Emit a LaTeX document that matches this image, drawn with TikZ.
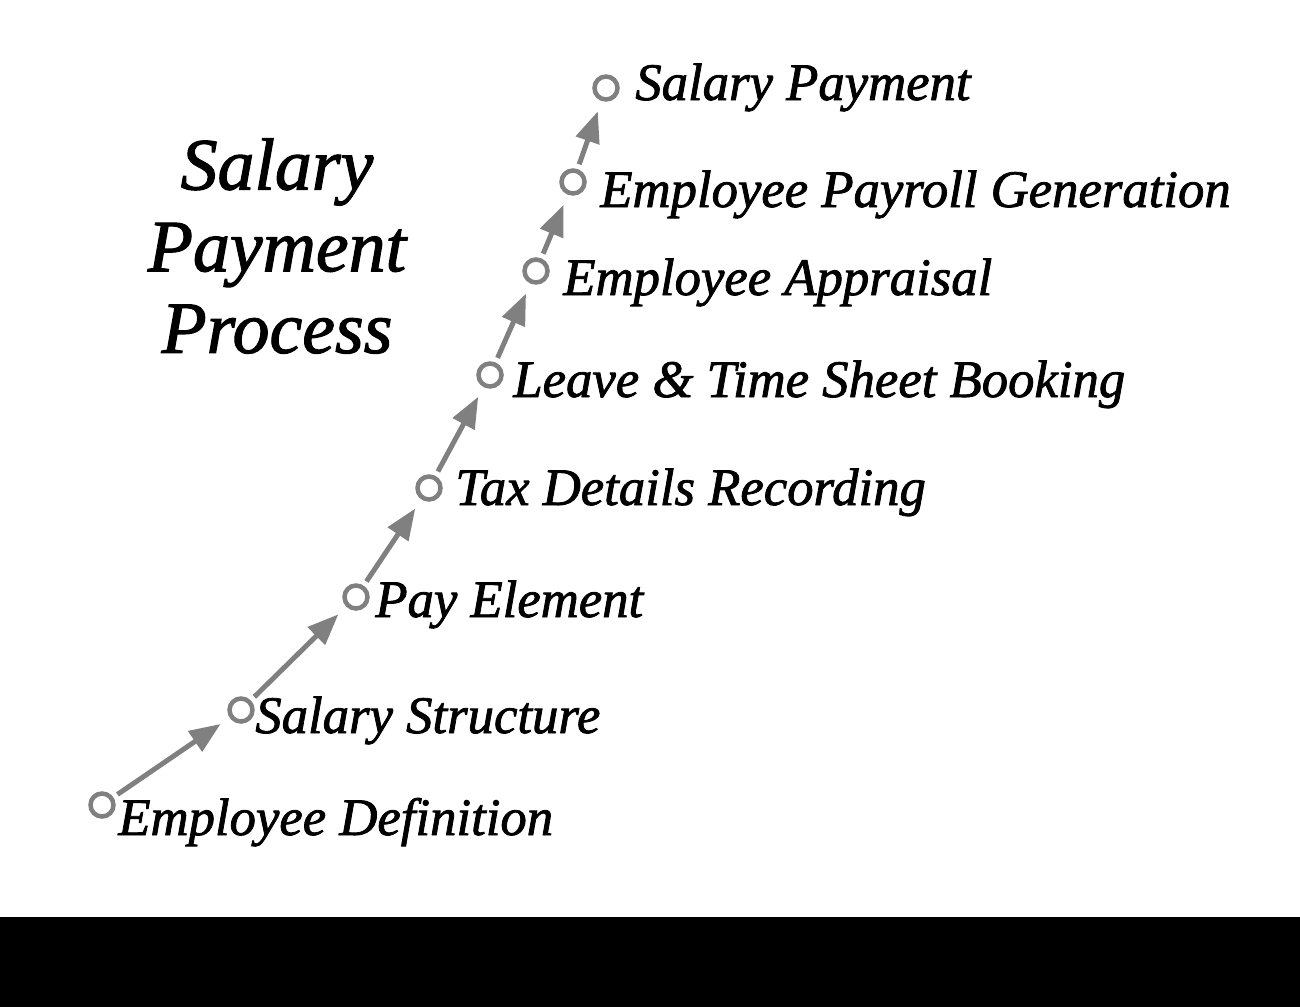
\documentclass[tikz,border=0pt]{standalone}
\usepackage{fontspec}
\setmainfont{Liberation Serif}
\newfontfamily\stepfont[FakeBold=1.5]{Liberation Serif}
\usetikzlibrary{arrows.meta,positioning}
\definecolor{stepgray}{HTML}{808080}

\begin{document}
\begin{tikzpicture}[
    x=0.02cm, y=-0.02cm,
    dotnode/.style={circle, draw=stepgray, line width=0.09cm, minimum size=0.46cm, inner sep=0pt},
    steplabel/.style={anchor=base west, inner sep=0pt, font=\stepfont\fontsize{30}{36}\selectfont\itshape},
    titlenode/.style={align=center, inner sep=0pt, font=\stepfont\fontsize{42}{46.5}\selectfont\itshape},
    steparrow/.style={draw=stepgray, line width=0.1cm, -{Triangle[length=0.62cm,width=0.48cm]}, shorten <=0.1cm, shorten >=0.22cm}
    ]
    \useasboundingbox (0,0) rectangle (1300,1007);
    \fill[white] (0,0) rectangle (1300,1007);
    \fill[black] (0,917) rectangle (1300,1007);

    %Title
    \node[titlenode] (title) at (277,246) {Salary\\Payment\\Process};

    %Nodes
    \node[dotnode] (definition) at (102,805) {};
    \node[dotnode] (structure)  at (241,710) {};
    \node[dotnode] (element)    at (356,597) {};
    \node[dotnode] (tax)        at (429,488) {};
    \node[dotnode] (leave)      at (490,375) {};
    \node[dotnode] (appraisal)  at (536,271) {};
    \node[dotnode] (payroll)    at (573,182) {};
    \node[dotnode] (payment)    at (606,88)  {};

    %Labels
    \node[steplabel] (definition_text) at (118,835) {Employee Definition};
    \node[steplabel] (structure_text)  at (255,733) {Salary Structure};
    \node[steplabel] (element_text)    at (375,617) {Pay Element};
    \node[steplabel] (tax_text)        at (455,505) {Tax Details Recording};
    \node[steplabel] (leave_text)      at (513,397) {Leave \& Time Sheet Booking};
    \node[steplabel] (appraisal_text)  at (563,295) {Employee Appraisal};
    \node[steplabel] (payroll_text)    at (600,207) {Employee Payroll Generation};
    \node[steplabel] (payment_text)    at (635,100) {Salary Payment};

    %Lines
    \draw[steparrow] (definition) -- (structure);
    \draw[steparrow] (structure)  -- (element);
    \draw[steparrow] (element)    -- (tax);
    \draw[steparrow] (tax)        -- (leave);
    \draw[steparrow] (leave)      -- (appraisal);
    \draw[steparrow] (appraisal)  -- (payroll);
    \draw[steparrow] (payroll)    -- (payment);
\end{tikzpicture}
\end{document}
